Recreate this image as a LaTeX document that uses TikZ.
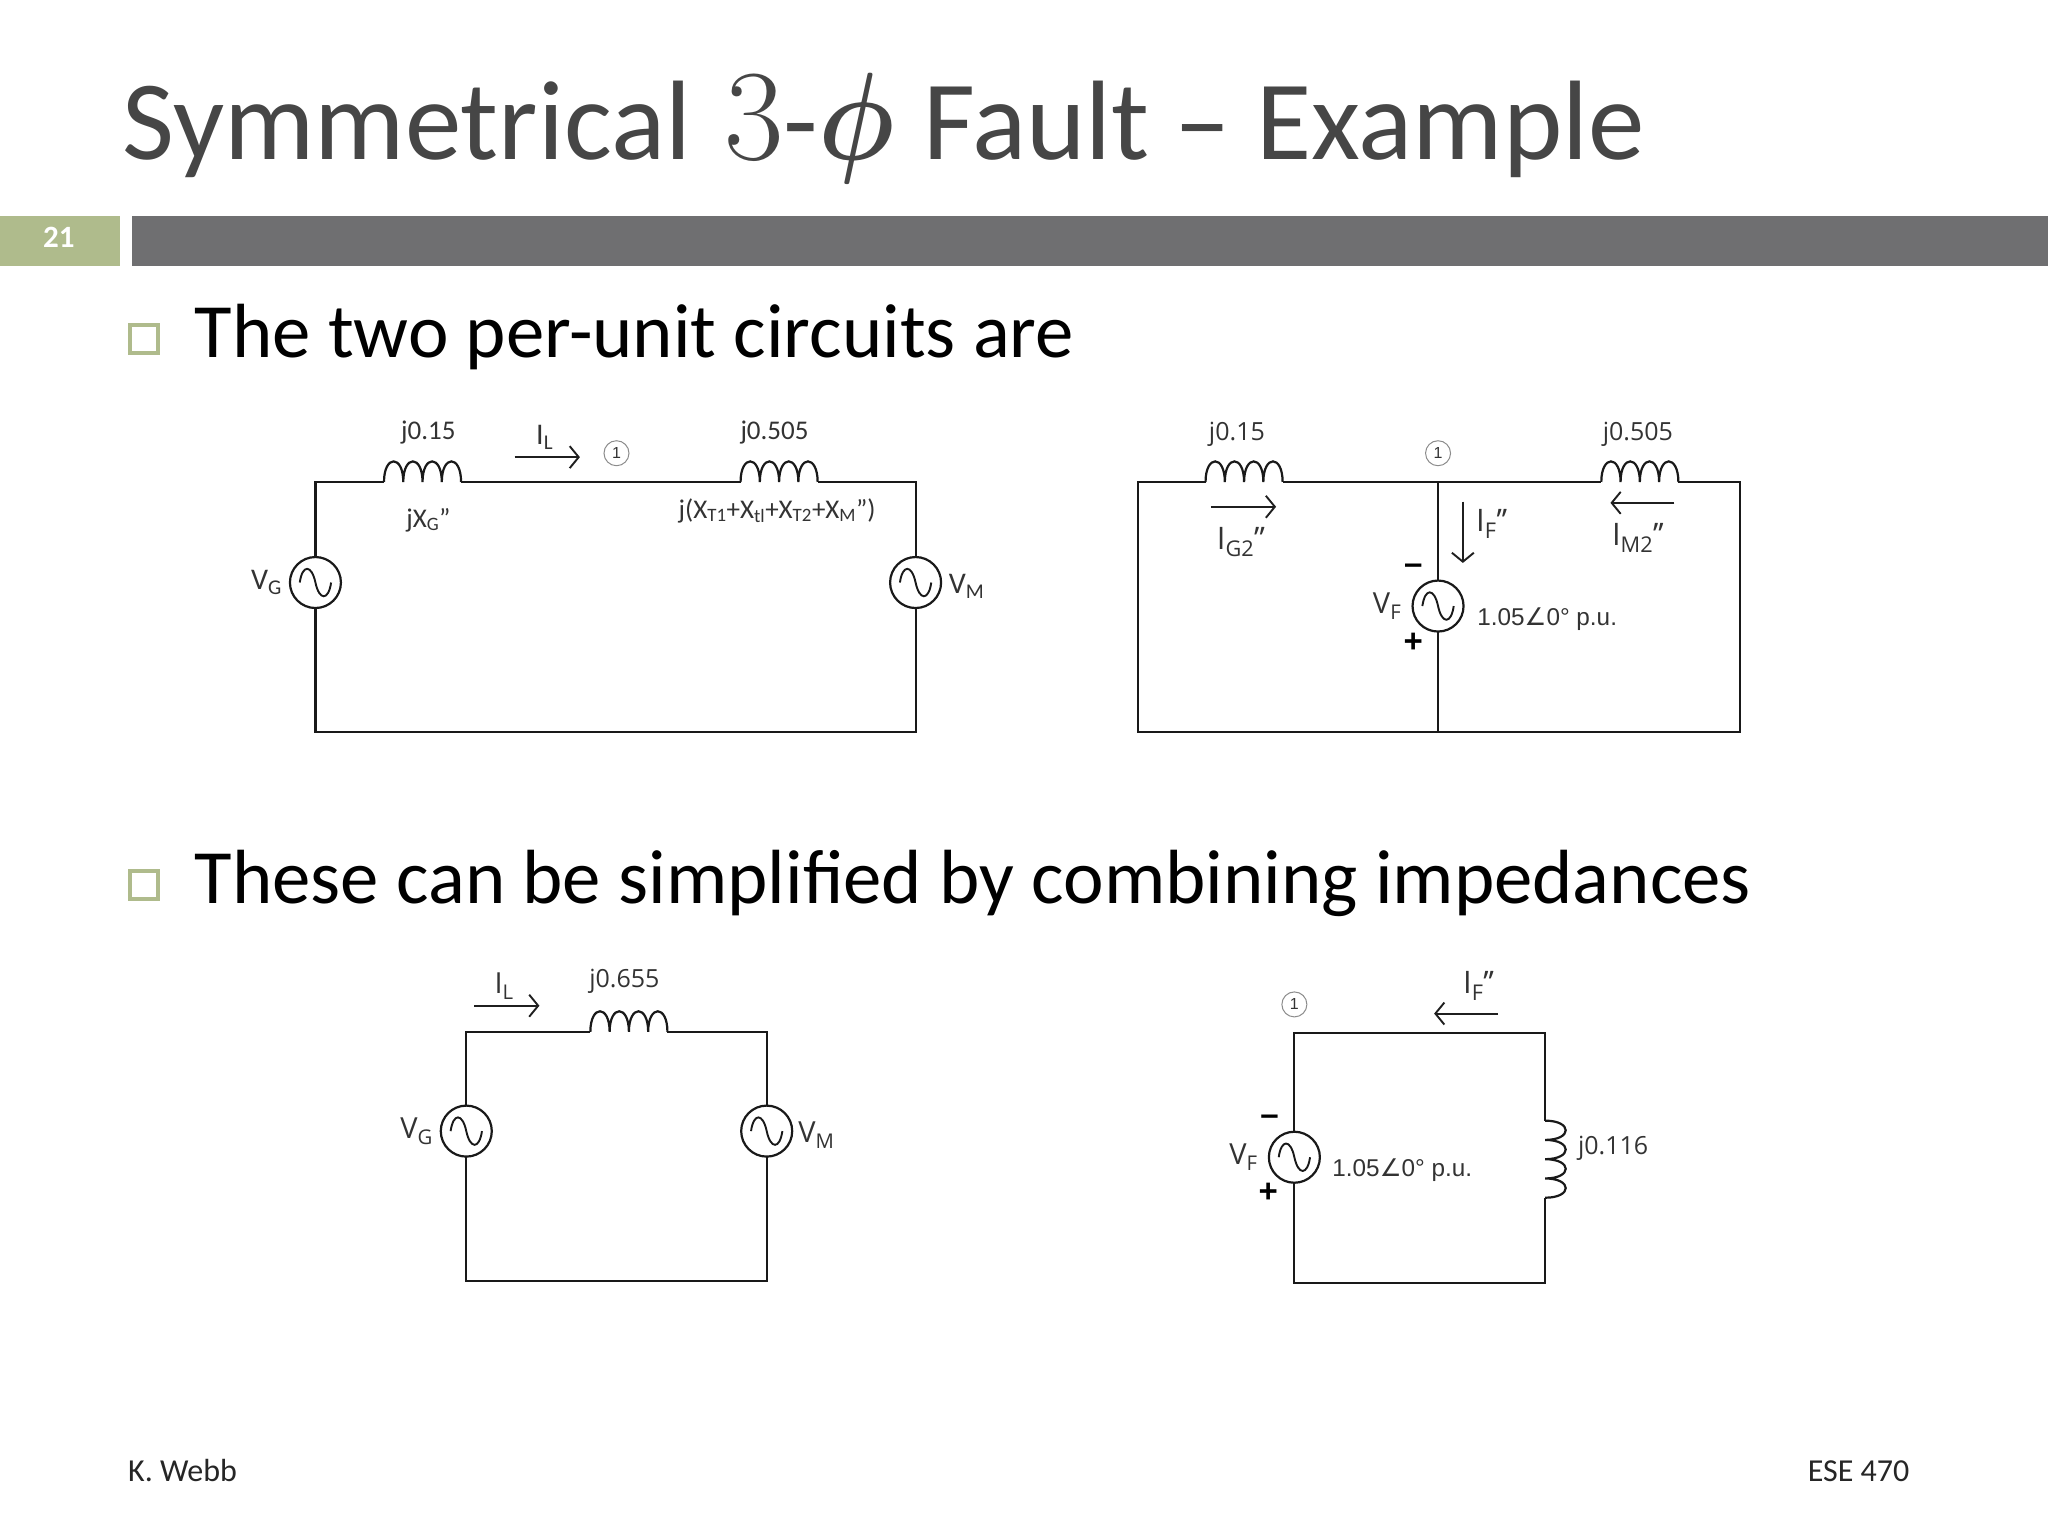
\documentclass[tikz,border=0pt]{standalone}
\usepackage{fontspec}
\setmainfont{Carlito}
\newfontfamily\opens{Open Sans}
\newfontfamily\libs{Liberation Sans}
\newfontfamily\dejav{DejaVu Sans}
\usetikzlibrary{arrows.meta}
\definecolor{sagegreen}{HTML}{AFBB8C}
\definecolor{bargray}{HTML}{6F6F71}
\definecolor{titlegray}{HTML}{464646}
\newcommand{\fs}[1]{\fontsize{#1}{#1}\selectfont}
\tikzset{
  wire/.style={line width=2.2pt,black!90,line join=miter},
  thinarrow/.style={line width=1.9pt,black!88,-{Straight Barb[length=9pt,width=22pt,line width=1.9pt]}},
  src/.style={circle,draw=black!90,line width=2.2pt,minimum size=51pt,inner sep=0pt,outer sep=0pt},
  lab/.style={inner sep=0pt,text=black!80,font=\fs{27}},
  labb/.style={inner sep=0pt,text=black!80,font=\opens\fs{25}},
  volt/.style={inner sep=0pt,text=black!80,font=\opens\fs{29}},
  cur/.style={inner sep=0pt,text=black!80,font=\opens\fs{31}},
  sign/.style={inner sep=0pt,text=black,font=\libs\bfseries\fs{33}},
  pu/.style={inner sep=0pt,anchor=west,text=black!80,font=\libs\fs{24.3}},
  nodenum/.style={circle,draw=black!45,line width=1pt,minimum size=25pt,inner sep=0pt,text=black!80,font=\libs\fs{16}},
  bodytext/.style={inner sep=0pt,anchor=base west,text=black,font=\fs{76.8}},
  foot/.style={inner sep=0pt,text=black!85,font=\fs{32}},
  bulletbox/.style={rectangle,draw=sagegreen,line width=4pt,minimum size=28pt,inner sep=0pt},
  pics/coil/.style={code={
    \coordinate (-a) at (0,0); \coordinate (-b) at (59,0);
    \draw[wire] (0,0) foreach \i in {0,1,2,3}{ .. controls ({\i*14.75},-21) and ({(\i+1)*14.75},-21) .. ({(\i+1)*14.75},0)};
  }},
  pics/coilv/.style={code={
    \coordinate (-a) at (0,0); \coordinate (-b) at (0,59);
    \draw[wire] (0,0) foreach \i in {0,1,2,3}{ .. controls (21,{\i*14.75}) and (21,{(\i+1)*14.75}) .. (0,{(\i+1)*14.75})};
  }},
  pics/wave/.style={code={
    \draw[wire,line width=1.9pt] (-12,0) .. controls (-10,-14) and (-3,-14) .. (0,0) .. controls (3,14) and (10,14) .. (12,0);
  }}
}
\begin{document}
\begin{tikzpicture}[x=1.30612pt,y=-1.30612pt]
\useasboundingbox (0,0) rectangle (1568,1176);
% header
\node[inner sep=0pt,anchor=base west,text=titlegray,font=\fs{113}] (title) at (94,122)
  {Symmetrical\hspace{8pt} \scalebox{5.2}{$3$}-\scalebox{4.3}[5.0]{\boldmath$\phi$}\hspace{3pt} Fault – Example};
\fill[sagegreen] (0,165) rectangle (92,204);
\fill[bargray] (101,165) rectangle (1568,204);
\node[inner sep=0pt,text=white,font=\bfseries\fs{31}] (num) at (45,182) {21};
\node[bulletbox] (b1) at (110,259.5) {};
\node[bodytext] (t1) at (149,274) {The two per-unit circuits are};
\node[bulletbox] (b2) at (110,677.5) {};
\node[bodytext] (t2) at (149,692) {These can be simplified by combining impedances};
\node[foot,anchor=base west] (f1) at (98,1134) {K. Webb};
\node[foot,anchor=base east] (f2) at (1462,1134) {ESE 470};

% circuit 1
\node[src] (A1) at (241.5,446) {}; \pic at (241.5,446) {wave};
\node[src] (A2) at (701,446) {}; \pic at (701,446) {wave};
\pic (AL1) at (294,369) {coil};
\pic (AL2) at (567,369) {coil};
\coordinate (Abl) at (241.5,560.5); \coordinate (Abr) at (701,560.5);
\draw[wire] (A1.north) |- (AL1-a);
\draw[wire] (AL1-b) -- (AL2-a);
\draw[wire] (AL2-b) -| (A2.north);
\draw[wire] (A1.south) -- (Abl) -- (Abr) -- (A2.south);
\node[lab] (a1) at (328,331) {j0.15};
\node[lab] (a2) at (593,331) {j0.505};
\node[lab] (a3) at (328,398) {jX\textsubscript{G}”};
\node[lab] (a4) at (595,391) {j(X\textsubscript{T1}+X\textsubscript{tl}+X\textsubscript{T2}+X\textsubscript{M}”)};
\node[lab,font=\fs{30}] (a5) at (417,335) {I\textsubscript{L}};
\coordinate (Aas) at (394,350); \coordinate (Aae) at (444,350);
\draw[thinarrow] (Aas) -- (Aae);
\node[nodenum] (a6) at (472,347) {1};
\node[lab,font=\fs{30}] (a7) at (204,446) {V\textsubscript{G}};
\node[lab,font=\fs{30}] (a8) at (740,449) {V\textsubscript{M}};

% circuit 2
\node[src] (B1) at (1101,464) {}; \pic at (1101,464) {wave};
\pic (BL1) at (923,369) {coil};
\pic (BL2) at (1226,369) {coil};
\coordinate (Btl) at (871,369); \coordinate (Btr) at (1332,369);
\coordinate (Bbl) at (871,560.5); \coordinate (Bbr) at (1332,560.5);
\coordinate (Bm) at (1101,369); \coordinate (Bn) at (1101,560.5);
\draw[wire] (BL1-a) -- (Btl) -- (Bbl) -- (Bbr) -- (Btr) -- (BL2-b);
\draw[wire] (BL1-b) -- (BL2-a);
\draw[wire] (Bm) -- (B1.north);
\draw[wire] (B1.south) -- (Bn);
\node[labb] (b3) at (947,332.5) {j0.15};
\node[labb] (b4) at (1254,332.5) {j0.505};
\node[nodenum] (b5) at (1101,347) {1};
\coordinate (Bas1) at (927,388); \coordinate (Bae1) at (977,388);
\draw[thinarrow] (Bas1) -- (Bae1);
\coordinate (Bas2) at (1282,385); \coordinate (Bae2) at (1233,385);
\draw[thinarrow] (Bas2) -- (Bae2);
\coordinate (Bas3) at (1120,384); \coordinate (Bae3) at (1120,431);
\draw[thinarrow] (Bas3) -- (Bae3);
\node[cur] (b6) at (950,415) {I\textsubscript{G2}’’};
\node[cur] (b7) at (1254,412) {I\textsubscript{M2}’’};
\node[cur] (b8) at (1142,401) {I\textsubscript{F}’’};
\node[sign] (b9) at (1082,436) {–};
\node[sign] (b10) at (1082,492) {+};
\node[volt] (b11) at (1062,464) {V\textsubscript{F}};
\node[pu] (b12) at (1131,474) {1.05{\dejav∠}0° p.u.};

% circuit 3
\node[src] (C1) at (357,866) {}; \pic at (357,866) {wave};
\node[src] (C2) at (587,866) {}; \pic at (587,866) {wave};
\pic (CL) at (452,790) {coil};
\coordinate (Cbl) at (357,981); \coordinate (Cbr) at (587,981);
\draw[wire] (C1.north) |- (CL-a);
\draw[wire] (CL-b) -| (C2.north);
\draw[wire] (C1.south) -- (Cbl) -- (Cbr) -- (C2.south);
\node[labb] (c1) at (478,751) {j0.655};
\node[cur,font=\opens\fs{29}] (c2) at (386,755) {I\textsubscript{L}};
\coordinate (Cas) at (363,770); \coordinate (Cae) at (413,770);
\draw[thinarrow] (Cas) -- (Cae);
\node[volt] (c3) at (319,866) {V\textsubscript{G}};
\node[volt] (c4) at (625,869) {V\textsubscript{M}};

% circuit 4
\node[src] (D1) at (991,886) {}; \pic at (991,886) {wave};
\pic (DL) at (1183,858) {coilv};
\coordinate (Dtl) at (991,791); \coordinate (Dtr) at (1183,791);
\coordinate (Dbl) at (991,982); \coordinate (Dbr) at (1183,982);
\draw[wire] (D1.north) -- (Dtl) -- (Dtr) -- (DL-a);
\draw[wire] (DL-b) -- (Dbr) -- (Dbl) -- (D1.south);
\node[labb] (d1) at (1235,879) {j0.116};
\node[cur] (d2) at (1132,755) {I\textsubscript{F}’’};
\coordinate (Das) at (1147,776); \coordinate (Dae) at (1098,776);
\draw[thinarrow] (Das) -- (Dae);
\node[nodenum] (d3) at (991,769) {1};
\node[sign] (d4) at (972,858) {–};
\node[sign] (d5) at (971,913) {+};
\node[volt] (d6) at (952,886) {V\textsubscript{F}};
\node[pu] (d7) at (1020,896) {1.05{\dejav∠}0° p.u.};
\end{tikzpicture}
\end{document}
